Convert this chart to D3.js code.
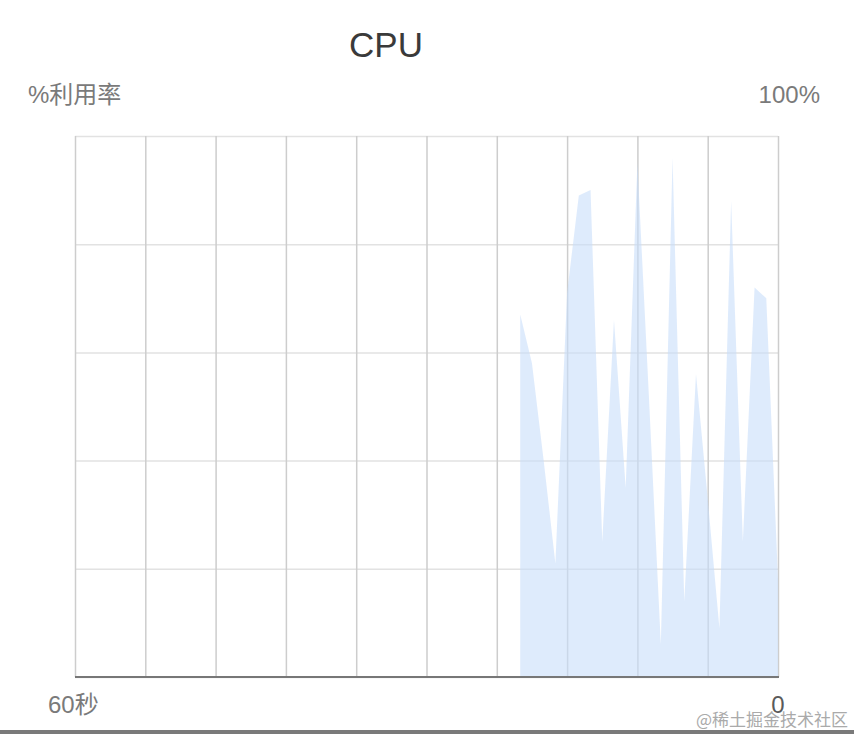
<!DOCTYPE html>
<html>
<head>
<meta charset="utf-8">
<script src="https://cdn.jsdelivr.net/npm/d3@7"></script>
<style>
  html, body { margin: 0; padding: 0; background: #fff; }
  svg { display: block; }
</style>
</head>
<body>
<svg id="chart" width="854" height="734"></svg>
<script>
// ---- data ----
const title = "CPU";
const yLabel = "%利用率";
const yMaxLabel = "100%";
const xStartLabel = "60秒";
const xEndLabel = "0";
const watermark = "@稀土掘金技术社区";

// elapsed second within the 60 s window (0 = 60 s ago, 60 = now)
const seconds = [38, 39, 40, 41, 42, 43, 44, 45, 46, 47, 48, 49, 50, 51, 52, 53, 54, 55, 56, 57, 58, 59, 60];
const cpuUsage = [67, 58, 40, 21, 71, 89, 90, 25, 66, 35, 95, 51, 6, 96, 14, 56, 33, 9, 88, 25, 72, 70, 18];

const xGridTicks = [0, 6, 12, 18, 24, 30, 36, 42, 48, 54, 60];
const yGridTicks = [0, 20, 40, 60, 80, 100];

// ---- layout ----
const svg = d3.select("#chart");
const margin = { left: 75, right: 76, top: 136, bottom: 57 };
const W = 854, H = 734;
const x = d3.scaleLinear().domain([0, 60]).range([margin.left, W - margin.right]);
const y = d3.scaleLinear().domain([0, 100]).range([H - margin.bottom, margin.top]);

const sans = "'Helvetica Neue', Arial, 'Liberation Sans', 'Noto Sans CJK SC', sans-serif";

// horizontal grid
const gy = svg.append("g")
  .attr("transform", `translate(${margin.left},0)`)
  .call(d3.axisLeft(y).tickValues(yGridTicks).tickSize(-(x.range()[1] - x.range()[0])).tickFormat(""));
gy.select(".domain").remove();
gy.selectAll(".tick line").attr("stroke", "#e2e2e2").attr("stroke-width", 1.5);

// vertical grid
const gx = svg.append("g")
  .attr("transform", `translate(0,${y(0)})`)
  .call(d3.axisBottom(x).tickValues(xGridTicks).tickSize(-(y.range()[0] - y.range()[1])).tickFormat(""));
gx.select(".domain").remove();
gx.selectAll(".tick line").attr("stroke", "#cdcdcd").attr("stroke-width", 1.5);

// area
const area = d3.area()
  .x((d, i) => x(seconds[i]))
  .y0(y(0))
  .y1(d => y(d))
  .curve(d3.curveLinear);

svg.append("path")
  .datum(cpuUsage)
  .attr("d", area)
  .attr("fill", "#c8defa")
  .attr("fill-opacity", 0.6);

// bottom axis line
svg.append("line")
  .attr("x1", x(0)).attr("x2", x(60) + 1)
  .attr("y1", y(0)).attr("y2", y(0))
  .attr("stroke", "#777").attr("stroke-width", 2);

// texts
svg.append("text")
  .attr("x", 386).attr("y", 57)
  .attr("text-anchor", "middle")
  .attr("font-family", sans).attr("font-size", 35)
  .attr("fill", "#3a3a3a")
  .text(title);

svg.append("text")
  .attr("x", 28).attr("y", 103)
  .attr("font-family", sans).attr("font-size", 24)
  .attr("fill", "#7a7a7a")
  .text(yLabel);

svg.append("text")
  .attr("x", 820).attr("y", 103)
  .attr("text-anchor", "end")
  .attr("font-family", sans).attr("font-size", 24)
  .attr("fill", "#7a7a7a")
  .text(yMaxLabel);

svg.append("text")
  .attr("x", 48).attr("y", 713)
  .attr("font-family", sans).attr("font-size", 24)
  .attr("fill", "#7a7a7a")
  .text(xStartLabel);

svg.append("text")
  .attr("x", x(60)).attr("y", 713)
  .attr("text-anchor", "middle")
  .attr("font-family", sans).attr("font-size", 24)
  .attr("fill", "#5a5a5a")
  .text(xEndLabel);

svg.append("text")
  .attr("x", 848).attr("y", 726)
  .attr("text-anchor", "end")
  .attr("font-family", "'Noto Sans CJK SC', sans-serif").attr("font-size", 17)
  .attr("fill", "#aaaaaa")
  .text(watermark);

// bottom bar
svg.append("rect")
  .attr("x", 0).attr("y", 730).attr("width", W).attr("height", 4)
  .attr("fill", "#7a7a7a");
</script>
</body>
</html>
